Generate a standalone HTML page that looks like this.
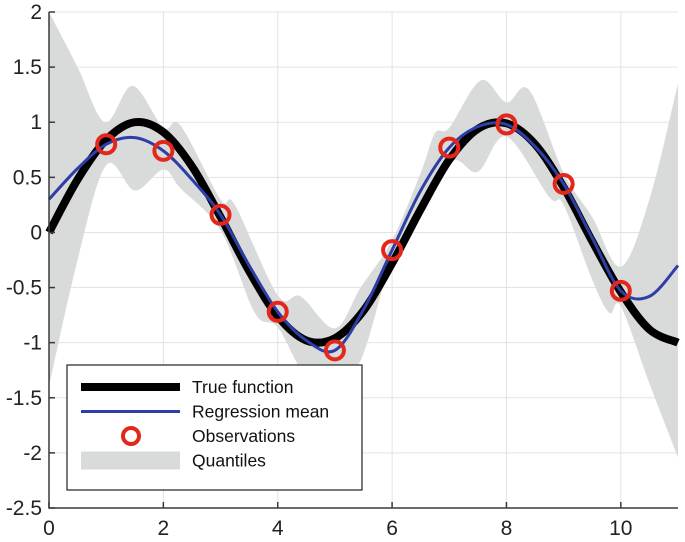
<!DOCTYPE html>
<html><head><meta charset="utf-8"><style>
body{margin:0;background:#fff}
svg{display:block;font-family:"Liberation Sans",sans-serif}
</style></head><body>
<svg id="c" width="685" height="542"></svg>
<script>
const xs=[0,0.5,1,1.5,2,2.5,3,3.5,4,4.5,5,5.5,6,6.5,7,7.5,8,8.5,9,9.5,10,10.5,11];
const trueVals=[0,0.48,0.84,1.00,0.91,0.60,0.14,-0.35,-0.76,-0.98,-0.96,-0.71,-0.28,0.21,0.66,0.94,0.99,0.80,0.41,-0.08,-0.54,-0.88,-1.00];
const meanVals=[0.30,0.58,0.80,0.86,0.74,0.48,0.16,-0.30,-0.72,-0.98,-1.07,-0.70,-0.16,0.38,0.77,0.96,0.98,0.78,0.44,-0.05,-0.53,-0.58,-0.30];
const upperX=[0,0.5,0.98,1.46,2,2.3,3,3.25,4,4.4,5,5.45,6,6.5,6.75,7,7.55,8,8.4,9,9.5,10,10.5,11];
const upperVals=[2.0,1.5,1.0,1.33,0.95,0.97,0.3,0.25,-0.57,-0.58,-0.87,-0.5,-0.07,0.54,0.9,0.95,1.38,1.18,1.29,0.54,0.14,-0.31,0.3,1.35];
const lowerX=[0,0.5,1,1.5,2,2.3,3,3.6,4,4.5,5,5.45,6,6.3,7,7.5,8,8.75,9,9.5,9.8,10,10.5,11];
const lowerVals=[-1.4,-0.25,0.61,0.38,0.57,0.4,0.02,-0.73,-0.86,-1.3,-1.25,-1.16,-0.22,-0.07,0.63,0.55,0.87,0.32,0.25,-0.43,-0.73,-0.67,-1.37,-2.04];
const obsX=[1,2,3,4,5,6,7,8,9,10];
const obsY=[0.8,0.74,0.16,-0.72,-1.07,-0.16,0.77,0.98,0.44,-0.53];
const xTicks=[0,2,4,6,8,10];
const yTicks=[-2.5,-2,-1.5,-1,-0.5,0,0.5,1,1.5,2];
const yTickLabels=["-2.5","-2","-1.5","-1","-0.5","0","0.5","1","1.5","2"];

const L=49,R=678,T=12,B=508;
const sx=v=>L+(v-0)/(11-0)*(R-L);
const sy=v=>B-(v+2.5)/4.5*(B-T);
const NS="http://www.w3.org/2000/svg";
const svg=document.getElementById('c');
function mk(tag,attrs,parent){const e=document.createElementNS(NS,tag);for(const k in attrs)e.setAttribute(k,attrs[k]);(parent||svg).appendChild(e);return e;}
function smooth(px,py){let d=`M${px[0]},${py[0]}`;for(let i=0;i<px.length-1;i++){const x0=px[Math.max(i-1,0)],y0=py[Math.max(i-1,0)],x1=px[i],y1=py[i],x2=px[i+1],y2=py[i+1],x3=px[Math.min(i+2,px.length-1)],y3=py[Math.min(i+2,px.length-1)];d+=` C${x1+(x2-x0)/6},${y1+(y2-y0)/6} ${x2-(x3-x1)/6},${y2-(y3-y1)/6} ${x2},${y2}`;}return d;}
function smoothNoM(px,py){return smooth(px,py).replace(/^M[^C]*/,'');}

xTicks.forEach(t=>{const g=mk('line',{x1:sx(t),x2:sx(t),y1:T,y2:B,stroke:'#e3e3e3','stroke-width':1});
});
yTicks.forEach(t=>{const g=mk('line',{x1:L,x2:R,y1:sy(t),y2:sy(t),stroke:'#e3e3e3','stroke-width':1});
});

const px=xs.map(sx);
const upx=upperX.map(sx), up=upperVals.map(sy);
const lpx=lowerX.map(sx), lo=lowerVals.map(sy);
const band=mk('path',{d:smooth(upx,up)+` L${lpx[lpx.length-1]},${lo[lo.length-1]}`+smoothNoM(lpx.slice().reverse(),lo.slice().reverse())+'Z',fill:'#d9dada'});


const tl=mk('path',{d:smooth(px,trueVals.map(sy)),fill:'none',stroke:'#000','stroke-width':8});

const ml=mk('path',{d:smooth(px,meanVals.map(sy)),fill:'none',stroke:'#2d3ea6','stroke-width':3});

obsX.forEach((x,i)=>{const c=mk('circle',{cx:sx(x),cy:sy(obsY[i]),r:9,fill:'none',stroke:'#e3271b','stroke-width':4});
});

const ax=mk('path',{d:`M${L},${T} L${L},${B} L${R},${B}`,fill:'none',stroke:'#3a3a3a','stroke-width':1.5});

xTicks.forEach(t=>{mk('line',{x1:sx(t),x2:sx(t),y1:B,y2:B-6,stroke:'#3a3a3a','stroke-width':1.5});
const tx=mk('text',{x:sx(t),y:B+27,'text-anchor':'middle','font-size':21,fill:'#222'});tx.textContent=t;
});
yTicks.forEach((t,i)=>{mk('line',{x1:L,x2:L+6,y1:sy(t),y2:sy(t),stroke:'#3a3a3a','stroke-width':1.5});
const tx=mk('text',{x:L-7,y:sy(t)+7,'text-anchor':'end','font-size':21,fill:'#222'});tx.textContent=yTickLabels[i];
});

const lg=mk('g',{});
mk('rect',{x:67,y:365,width:295,height:125,fill:'#fff',stroke:'#222','stroke-width':1.2},lg);
const items=[['True function','line','#000',8],['Regression mean','line','#2d3ea6',3],['Observations','circ','#e3271b',4],['Quantiles','rect','#d9dada',0]];
items.forEach((it,i)=>{const y=387+i*24.5;const g=mk('g',{},lg);

if(it[1]=='line')mk('line',{x1:81,x2:180,y1:y,y2:y,stroke:it[2],'stroke-width':it[3]},g);
else if(it[1]=='circ')mk('circle',{cx:131,cy:y,r:8,fill:'none',stroke:it[2],'stroke-width':4},g);
else mk('rect',{x:81,y:y-9,width:99,height:18,fill:it[2]},g);
const t=mk('text',{x:192,y:y+6,'font-size':17.5,fill:'#111'},g);t.textContent=it[0];});
</script>
</body></html>
